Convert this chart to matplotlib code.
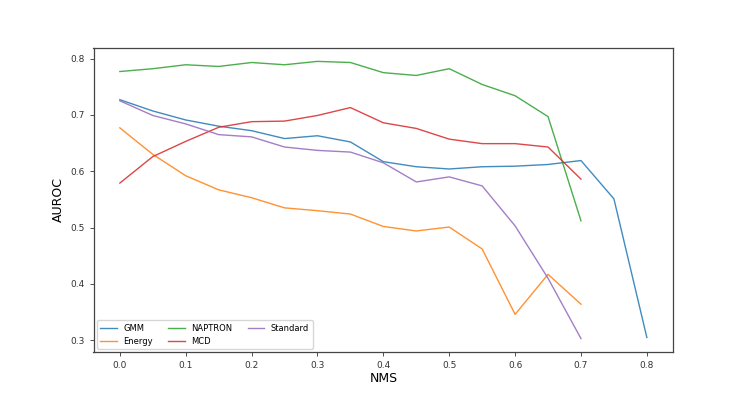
import matplotlib
matplotlib.use("Agg")
import matplotlib.pyplot as plt

nms = [0.0, 0.05, 0.1, 0.15, 0.2, 0.25, 0.3, 0.35, 0.4, 0.45, 0.5, 0.55, 0.6, 0.65, 0.7, 0.75, 0.8]

gmm = [0.727, 0.707, 0.691, 0.680, 0.672, 0.658, 0.663, 0.652, 0.617, 0.608, 0.604, 0.608, 0.609, 0.612, 0.619, 0.551, 0.305]
energy = [0.677, 0.630, 0.592, 0.567, 0.553, 0.535, 0.530, 0.524, 0.502, 0.494, 0.501, 0.462, 0.346, 0.417, 0.364]
naptron = [0.777, 0.782, 0.789, 0.786, 0.793, 0.789, 0.795, 0.793, 0.775, 0.770, 0.782, 0.754, 0.734, 0.697, 0.512]
mcd = [0.579, 0.626, 0.653, 0.678, 0.688, 0.689, 0.699, 0.713, 0.686, 0.676, 0.657, 0.649, 0.649, 0.643, 0.586]
standard = [0.725, 0.699, 0.684, 0.665, 0.661, 0.643, 0.637, 0.634, 0.615, 0.581, 0.590, 0.574, 0.503, 0.410, 0.303]

fig, ax = plt.subplots(figsize=(7.48, 3.96), dpi=100)
kw = dict(lw=1.0, alpha=0.85)
ax.plot(nms[:len(gmm)], gmm, color="#1f77b4", label="GMM", **kw)
ax.plot(nms[:len(energy)], energy, color="#ff7f0e", label="Energy", **kw)
ax.plot(nms[:len(naptron)], naptron, color="#2ca02c", label="NAPTRON", **kw)
ax.plot(nms[:len(mcd)], mcd, color="#d62728", label="MCD", **kw)
ax.plot(nms[:len(standard)], standard, color="#9467bd", label="Standard", **kw)

ax.set_xticks([0.0, 0.1, 0.2, 0.3, 0.4, 0.5, 0.6, 0.7, 0.8])
ax.set_yticks([0.3, 0.4, 0.5, 0.6, 0.7, 0.8])
ax.tick_params(labelsize=6.5, length=3, width=0.6, colors="#333333")
ax.set_xlabel("NMS", fontsize=9, labelpad=1)
ax.set_ylabel("AUROC", fontsize=9, labelpad=4)
for s in ax.spines.values():
    s.set_color("#444444")
    s.set_linewidth(0.9)
ax.legend(ncol=3, loc="lower left", fontsize=6, frameon=True, handlelength=2.0,
          columnspacing=1.8, borderaxespad=0.4)
fig.savefig("out.png", dpi=100)
